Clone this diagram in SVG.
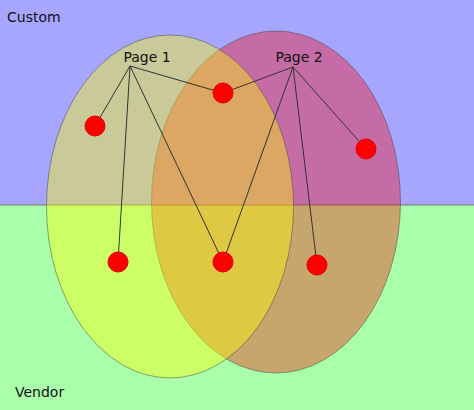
<svg xmlns="http://www.w3.org/2000/svg" width="474" height="410" viewBox="0 0 474 410">
<style>
.lbl{font-family:"DejaVu Sans","Liberation Sans",sans-serif;font-size:14px;fill:#111}
.dot{fill:#ff0000;stroke:#e00000;stroke-width:1}
.edge{stroke:#333;stroke-width:1;fill:none}
.set{stroke:#444;stroke-opacity:0.5;stroke-width:1}
</style>
<g id="region-custom">
<rect x="0" y="0" width="474" height="205" fill="#a6a6ff"/>
<text class="lbl" x="7" y="21.5">Custom</text>
</g>
<g id="region-vendor">
<rect x="0" y="205" width="474" height="205" fill="#aaffaa"/>
<line x1="0" y1="205" x2="474" y2="205" stroke="#777" stroke-width="1"/>
<text class="lbl" x="15" y="397">Vendor</text>
</g>
<g id="set-page2">
<ellipse class="set" cx="276" cy="202" rx="124.5" ry="171" fill="#ff0000" fill-opacity="0.35"/>
</g>
<g id="set-page1">
<ellipse class="set" cx="170" cy="206.5" rx="123.5" ry="171.5" fill="#ffff00" fill-opacity="0.4"/>
</g>
<g id="connectors">
<line class="edge" x1="130" y1="66" x2="95" y2="126"/>
<line class="edge" x1="130" y1="66" x2="223" y2="93"/>
<line class="edge" x1="130" y1="66" x2="118" y2="262"/>
<line class="edge" x1="130" y1="66" x2="223" y2="262"/>
<line class="edge" x1="293" y1="67" x2="223" y2="93"/>
<line class="edge" x1="293" y1="67" x2="223" y2="262"/>
<line class="edge" x1="293" y1="67" x2="317" y2="265"/>
<line class="edge" x1="293" y1="67" x2="366" y2="149"/>
</g>
<g id="page1"><text class="lbl" x="147" y="62" text-anchor="middle">Page 1</text></g>
<g id="page2"><text class="lbl" x="299" y="62" text-anchor="middle">Page 2</text></g>
<g id="item1"><circle class="dot" cx="95" cy="126" r="10"/></g>
<g id="item2"><circle class="dot" cx="223" cy="93" r="10"/></g>
<g id="item3"><circle class="dot" cx="366" cy="149" r="10"/></g>
<g id="item4"><circle class="dot" cx="118" cy="262" r="10"/></g>
<g id="item5"><circle class="dot" cx="223" cy="262" r="10"/></g>
<g id="item6"><circle class="dot" cx="317" cy="265" r="10"/></g>
</svg>
